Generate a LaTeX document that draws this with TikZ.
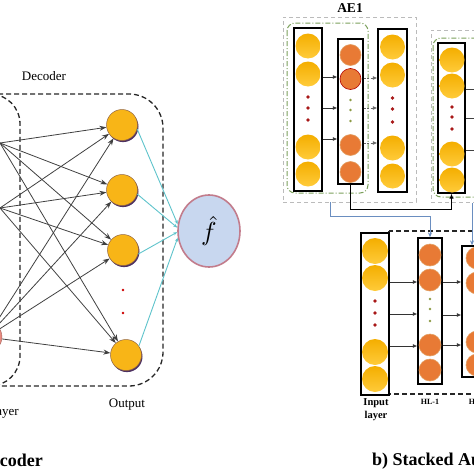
\documentclass[tikz,border=0pt]{standalone}
\usepackage{fontspec}
\usepackage{graphicx}
\setmainfont{Liberation Serif}
\usetikzlibrary{arrows.meta,shapes.geometric,shadows}
\definecolor{yelA}{HTML}{F4AE00}
\definecolor{yelB}{HTML}{FFCB3A}
\definecolor{outY}{HTML}{F8B517}
\definecolor{shadowP}{HTML}{4E3262}
\definecolor{oran}{HTML}{E87A35}
\definecolor{oranB}{HTML}{E3A064}
\definecolor{reddot}{HTML}{A81818}
\definecolor{greendot}{HTML}{8C9A45}
\definecolor{cyanL}{HTML}{5EC3CB}
\definecolor{fhatF}{HTML}{C8D7EF}
\definecolor{fhatB}{HTML}{C27C8C}
\definecolor{greenDD}{HTML}{7BA05B}
\definecolor{grayD}{HTML}{BBBBBB}
\definecolor{blueC}{HTML}{6A8EC0}
\definecolor{pinkN}{HTML}{E88A80}
\begin{document}
\begin{tikzpicture}[x=1pt,y=-1pt,
  lout/.style={circle,minimum size=31pt,inner sep=0pt,fill=outY,draw=shadowP!60!outY,line width=0.5pt,
     drop shadow={shadow xshift=1pt,shadow yshift=-1.6pt,fill=shadowP,opacity=1}},
  blkarrow/.style={draw=black!75,line width=0.8pt,-{Stealth[length=7pt,width=5pt]}},
  cyanarrow/.style={draw=cyanL,line width=0.9pt,-{Stealth[length=4pt,width=3pt]}},
  boxdash/.style={draw=black!85,line width=1.3pt,dash pattern=on 5pt off 3pt},
  colbox/.style={draw=black,line width=1.3pt,inner sep=0pt},
  ycirc/.style={circle,inner sep=0pt,minimum size=25pt,top color=yelA,bottom color=yelB},
  ocirc/.style={circle,inner sep=0pt,minimum size=21pt,fill=oran,draw=oranB,line width=0.6pt},
  gbox/.style={draw=grayD,line width=1pt,dash pattern=on 4pt off 3pt,inner sep=0pt},
  grbox/.style={draw=greenDD,line width=1pt,dash pattern=on 5pt off 2pt on 1pt off 2pt,rounded corners=8pt},
  rarrow/.style={draw=black!80,line width=0.8pt,-{Latex[length=4.5pt,width=4pt]}},
  darrow/.style={draw=black!60,line width=0.8pt,dash pattern=on 2pt off 1.5pt,-{Latex[length=4.5pt,width=4pt]}},
  bluearrow/.style={draw=blueC,line width=0.9pt,-{Stealth[length=5pt,width=4pt]}},
  rdot/.style={fill=reddot},
  gdot/.style={fill=greendot},
  lbl/.style={font=\fontsize{13}{15}\selectfont,inner sep=0pt},
  title/.style={font=\fontsize{18}{20}\selectfont\bfseries,inner sep=0pt}
]
\useasboundingbox (0,0) rectangle (474,474);

% ===== Left: decoder =====
\node[lbl] (declbl) at (44,76) {Decoder};
\draw[boxdash,rounded corners=34pt] (-10,94) -- (163,94) -- (163,386) -- (-10,386);
\draw[boxdash,rounded corners=30pt] (-14,94) -- (20,94) -- (20,386) -- (-14,386);

\coordinate (s1) at (0,143);
\coordinate (s2) at (0,208);
\node[circle,minimum size=30pt,inner sep=0pt,fill=pinkN,draw=pinkN!70!black] (s3) at (-13,337) {};

\node[lout] (o1) at (122,125) {};
\node[lout] (o2) at (122,190) {};
\node[lout] (o3) at (123,250) {};
\node[lout] (o4) at (126,355) {};
\fill[red!80!black] (123,290) circle (1.3);
\fill[red!80!black] (123,313) circle (1.3);

\foreach \s in {s1,s2,s3}{
  \foreach \o in {o1,o2,o3,o4}{
    \draw[blkarrow] (\s) -- (\o);
  }
}

\node[ellipse,minimum width=62pt,minimum height=72pt,inner sep=0pt,fill=fhatF,draw=fhatB,line width=1.6pt] (fh) at (209,231)
  {\scalebox{2.6}{$\hat{f}$}};
\draw[cyanarrow] (o1.-15) -- (fh.168);
\draw[cyanarrow] (o2.-15) -- (fh.174);
\draw[cyanarrow] (o3.-15) -- (fh.182);
\draw[cyanarrow] (o4.35) -- (fh.192);

\node[lbl] (outlbl) at (127,405) {Output};
\node[lbl,anchor=east] (hidlbl) at (19,412) {Hidden layer};
\node[title,anchor=east] (atitle) at (43,462) {a) Autoencoder};

% ===== Right: AE1 =====
\node[font=\fontsize{13.5}{15}\selectfont\bfseries,inner sep=0pt] (ae1lbl) at (350,8) {AE1};
\node[gbox,minimum width=133pt,minimum height=185pt] (boxA) at (349.5,109.5) {};
\draw[grbox] (287,23) rectangle (368,193);

\node[colbox,minimum width=28pt,minimum height=163pt] (inA) at (308,109.5) {};
\node[colbox,minimum width=25pt,minimum height=145pt] (hA) at (350.5,111.5) {};
\node[colbox,minimum width=29pt,minimum height=163pt] (outA) at (392.5,110.5) {};

\foreach \y [count=\i] in {46,74,147,174}{ \node[ycirc] (a\i) at (308,\y) {}; }
\foreach \y in {97,108,120}{ \fill[rdot] (308,\y) circle (1.8); }
\node[ocirc] (h1) at (350.5,55) {};
\node[ocirc,draw=red!70!black] (h2) at (350.5,79) {};
\node[ocirc] (h3) at (350.5,145) {};
\node[ocirc] (h4) at (350.5,172) {};
\foreach \y in {100,110,121}{ \fill[gdot] (350.5,\y) circle (1.4); }
\foreach \y [count=\i] in {47,75,148,176}{ \node[ycirc] (b\i) at (392.5,\y) {}; }
\foreach \y in {98,109,122}{ \fill[rdot] (392.5,\y) circle (1.8); }

\foreach \y in {77,108,139}{
  \coordinate (ya) at (0,\y);
  \draw[rarrow] (inA.east |- ya) -- (hA.west |- ya);
}
\foreach \y in {78,108,143}{
  \coordinate (yb) at (0,\y);
  \draw[darrow] (hA.east |- yb) -- (outA.west |- yb);
}

% ===== AE2 (partial) =====
\node[gbox,minimum width=80pt,minimum height=172pt] (boxB) at (471,116) {};
\draw[grbox] (433,38) rectangle (520,197);
\node[colbox,minimum width=27pt,minimum height=150pt] (c2) at (451.5,118) {};
\foreach \y [count=\i] in {60,86,154,180}{ \node[ycirc] (e\i) at (452,\y) {}; }
\foreach \y in {107,117,129}{ \fill[rdot] (452,\y) circle (1.8); }
\foreach \y in {89,118,150}{
  \coordinate (yc) at (490,\y);
  \draw[black!75,line width=0.8pt] (c2.east |- yc) -- (yc);
}

% AE1 hidden -> AE2
\draw[black,line width=1.5pt,-{Latex[length=5pt,width=4.5pt]}] (hA.south) -- ++(0,25) -| (c2.south);

% ===== Stacked autoencoder =====
\draw[boxdash] (389,231) rectangle (500,394);
\node[colbox,minimum width=28pt,minimum height=162pt] (inS) at (375,314) {};
\foreach \y [count=\i] in {251,278,352,379}{ \node[ycirc,minimum size=26pt] (i\i) at (375,\y) {}; }
\foreach \y in {301,313,325}{ \fill[rdot] (375,\y) circle (1.8); }

\node[colbox,minimum width=24pt,minimum height=146pt] (hl1) at (430,311) {};
\foreach \y [count=\i] in {255,280,345,370}{ \node[ocirc,minimum size=22pt] (p\i) at (430,\y) {}; }
\foreach \y in {299,309,321}{ \fill[gdot] (430,\y) circle (1.4); }

\node[colbox,minimum width=28pt,minimum height=131pt] (hl2) at (476,311.5) {};
\foreach \y [count=\i] in {258,283,342,365}{ \node[ocirc,minimum size=22pt] (q\i) at (477,\y) {}; }

\foreach \y in {282,314,346}{
  \coordinate (yd) at (0,\y);
  \draw[rarrow] (inS.east |- yd) -- (hl1.west |- yd);
}
\foreach \y in {282,315,345}{
  \coordinate (ye) at (0,\y);
  \draw[rarrow] (hl1.east |- ye) -- (hl2.west |- ye);
}

% blue connectors
\coordinate (bst) at (330,202);
\draw[bluearrow] (bst) -- ++(0,14) -| (hl1.north);
\coordinate (bst2) at (472,203);
\draw[bluearrow] (bst2) -- (bst2 |- hl2.north);

\node[font=\fontsize{10.5}{12}\selectfont\bfseries,align=center,inner sep=0pt] (inlbl) at (376,410) {Input\\[1pt]layer};
\node[font=\fontsize{8}{9}\selectfont\bfseries,inner sep=0pt] (hl1lbl) at (430,402) {HL-1};
\node[font=\fontsize{8}{9}\selectfont\bfseries,inner sep=0pt] (hl2lbl) at (478,402) {HL-2};

\node[title,anchor=west] (btitle) at (372,461) {b) Stacked Autoencoder};
\end{tikzpicture}
\end{document}
